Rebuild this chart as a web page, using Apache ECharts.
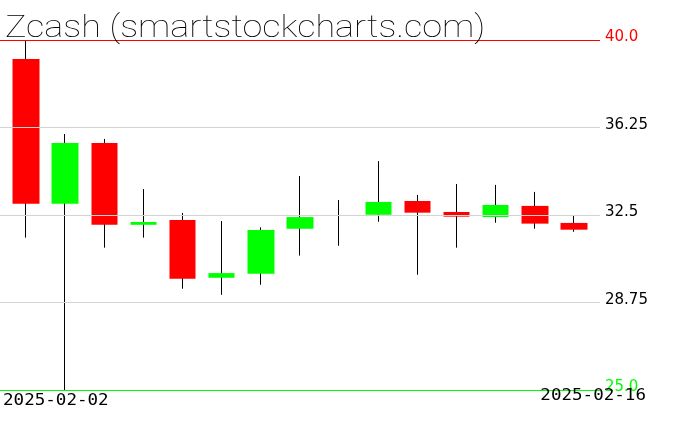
<!DOCTYPE html>
<html>
<head>
<meta charset="utf-8">
<script src="https://cdn.jsdelivr.net/npm/echarts@6/dist/echarts.min.js"></script>
<style>
html,body{margin:0;padding:0;background:#fff;}
#chart{width:676px;height:431px;}
</style>
</head>
<body>
<div id="chart"></div>
<script>
const titleText = 'Zcash (smartstockcharts.com)';
const dates = ['2025-02-02','2025-02-03','2025-02-04','2025-02-05','2025-02-06','2025-02-07','2025-02-08',
  '2025-02-09','2025-02-10','2025-02-11','2025-02-12','2025-02-13','2025-02-14','2025-02-15','2025-02-16'];
const opens  = [39.19, 32.98, 35.59, 32.08, 32.29, 29.81, 29.98, 31.91, 32.50, 32.51, 33.10, 32.63, 32.41, 32.89, 32.16];
const closes = [32.98, 35.59, 32.08, 32.20, 29.77, 30.01, 31.86, 32.41, 32.50, 33.06, 32.60, 32.43, 32.93, 32.13, 31.87];
const lows   = [31.53, 25.00, 31.10, 31.53, 29.34, 29.08, 29.51, 30.76, 31.18, 32.21, 29.94, 31.10, 32.17, 31.91, 31.78];
const highs  = [40.00, 35.97, 35.76, 33.61, 32.59, 32.24, 31.97, 34.17, 33.14, 34.81, 33.36, 33.83, 33.79, 33.49, 32.46];
const yTicks = [25, 28.75, 32.5, 36.25, 40];
const yTickLabels = ['25.0', '28.75', '32.5', '36.25', '40.0'];
const yTickColors = ['#00ff00', '#000000', '#000000', '#000000', '#ff0000'];
const yLineColors = ['#00ff00', '#d3d3d3', '#d3d3d3', '#d3d3d3', '#ff0000'];

const wickData = dates.map((d, i) => [opens[i], closes[i], lows[i], highs[i]]);
const bodyData = dates.map((d, i) => [opens[i], closes[i], Math.min(opens[i], closes[i]), Math.max(opens[i], closes[i])]);

function tickIndex(v) {
  let best = 0;
  yTicks.forEach((t, i) => { if (Math.abs(t - v) < Math.abs(yTicks[best] - v)) best = i; });
  return best;
}

const chart = echarts.init(document.getElementById('chart'), null, {renderer: 'canvas'});
chart.setOption({
  animation: false,
  backgroundColor: '#ffffff',
  grid: [
    {left: 0, width: 600, top: 40, height: 350, containLabel: false},
    {left: 6.4, width: 587.2, top: 40, height: 350, containLabel: false}
  ],
  xAxis: [
    {gridIndex: 0, type: 'value', min: 0, max: 1, show: false},
    {gridIndex: 1, type: 'category', data: dates, boundaryGap: true, show: false}
  ],
  yAxis: [
    {
      gridIndex: 0, type: 'value', min: 25, max: 40, interval: 3.75, position: 'right', z: 5,
      axisLine: {show: false}, axisTick: {show: false},
      splitLine: {show: true, showMinLine: true, showMaxLine: true,
        lineStyle: {color: yLineColors, width: 1}},
      axisLabel: {
        show: true, margin: 5, align: 'left', verticalAlign: 'bottom', lineHeight: 5,
        fontFamily: 'DejaVu Sans', fontSize: 15,
        formatter: v => yTickLabels[tickIndex(v)],
        color: v => yTickColors[tickIndex(v)]
      }
    },
    {gridIndex: 1, type: 'value', min: 25, max: 40, show: false}
  ],
  series: [
    {
      type: 'candlestick', xAxisIndex: 1, yAxisIndex: 1, barWidth: 1, silent: true, z: 2,
      itemStyle: {color: '#000', color0: '#000', borderColor: '#000', borderColor0: '#000', borderWidth: 1},
      data: wickData
    },
    {
      type: 'candlestick', xAxisIndex: 1, yAxisIndex: 1, barWidth: 27, silent: true, z: 3,
      itemStyle: {color: '#00ff00', color0: '#ff0000', borderColor: '#00ff00', borderColor0: '#ff0000', borderWidth: 0},
      data: bodyData
    }
  ],
  graphic: [
    {type: 'text', x: 5, y: 28.8, scaleX: 1.16, z: 10, silent: true,
      style: {text: titleText, font: '100 31px Roboto', fill: '#000', align: 'left', verticalAlign: 'middle'}},
    {type: 'text', x: 3, y: 401.5, scaleX: 1.17, z: 10, silent: true,
      style: {text: dates[0], font: '15px "DejaVu Sans Mono"', fill: '#000', align: 'left', verticalAlign: 'middle'}},
    {type: 'text', x: 646, y: 395.8, scaleX: 1.17, z: 10, silent: true,
      style: {text: dates[dates.length - 1], font: '15px "DejaVu Sans Mono"', fill: '#000', align: 'right', verticalAlign: 'middle'}}
  ]
});
</script>
</body>
</html>
